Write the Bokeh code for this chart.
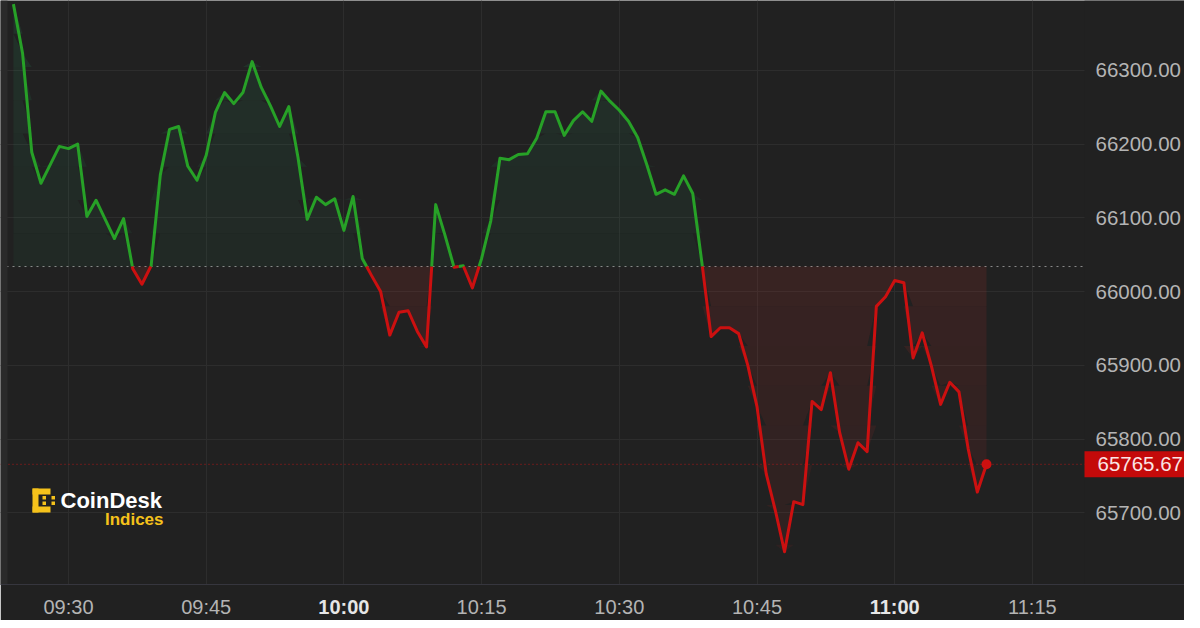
import numpy as np
from bokeh.plotting import figure
from bokeh.models import (Range1d, FixedTicker, PrintfTickFormatter, Span, Label,
                          BoxAnnotation, LinearAxis)
from bokeh.embed import file_html
from bokeh.resources import INLINE

# ---------------- data ----------------
start_time = "09:24"          # first 1-minute sample
prices = [
    66390, 66323, 66189, 66147, 66172, 66197, 66194, 66200, 66102, 66124,
    66098, 66072, 66099, 66031, 66010, 66035, 66158, 66220, 66224, 66170,
    66151, 66185, 66243, 66270, 66255, 66270, 66312, 66277, 66252, 66224,
    66251, 66182, 66098, 66128, 66118, 66126, 66083, 66129, 66045, 66022,
    66000, 65941, 65972, 65974, 65946, 65925, 66118, 66077, 66033, 66035,
    66005, 66045, 66096, 66181, 66179, 66186, 66187, 66208, 66244, 66244,
    66212, 66232, 66244, 66231, 66272, 66258, 66246, 66231, 66209, 66172,
    66132, 66138, 66132, 66157, 66133, 66039, 65939, 65951, 65951, 65943,
    65900, 65844, 65753, 65703, 65647, 65715, 65711, 65851, 65840, 65890,
    65809, 65759, 65795, 65783, 65980, 65993, 66015, 66012, 65910, 65944,
    65899, 65847, 65877, 65864, 65787, 65728, 65765.67,
]
baseline_price = 66034.0
price_ticks = [65600, 65700, 65800, 65900, 66000, 66100, 66200, 66300]
time_ticks = ["09:30", "09:45", "10:00", "10:15", "10:30", "10:45", "11:00", "11:15"]
hour_ticks = ["10:00", "11:00"]

# ---------------- style ----------------
BG = "#212121"
GRID = "#2d2d2d"
GREEN = "#27a127"
RED = "#cc1010"
AXIS_TXT = "#b4b4b4"
FONT = "Liberation Sans"
YELLOW = "#f5c21b"
HOUR_ROW_SHIFT = 31  # moves the bold hour labels up onto the time-label row


def to_min(s):
    h, m = s.split(":")
    return int(h) * 60 + int(m)


# chart geometry in canvas pixels
PX_0930 = 68.0
PX_PER_MIN = 9.18
PY_66000 = 291.1
PY_PER_UNIT = 0.7371
PRICE_SCALE_PX = 1084      # left edge of the price scale column


def px_to_min(px):
    return to_min("09:30") + (px - PX_0930) / PX_PER_MIN


def py_to_val(py):
    return 66000 + (PY_66000 - py) / PY_PER_UNIT


FRAME_W, FRAME_H = 1184, 584
X_START, X_END = px_to_min(0), px_to_min(FRAME_W)
Y_START, Y_END = py_to_val(FRAME_H), py_to_val(0)

x = np.array([to_min(start_time) + k for k in range(len(prices))], dtype=float)
y = np.array(prices, dtype=float)
base = baseline_price

# insert baseline crossings so the colour switches exactly at the baseline
xs, ys = [x[0]], [y[0]]
for i in range(1, len(x)):
    y0, y1 = y[i - 1], y[i]
    if (y0 - base) * (y1 - base) < 0:
        t = (base - y0) / (y1 - y0)
        xs.append(x[i - 1] + t * (x[i] - x[i - 1]))
        ys.append(base)
    xs.append(x[i])
    ys.append(y1)
xs = np.array(xs)
ys = np.array(ys)
up = np.where(ys >= base, ys, np.nan)
dn = np.where(ys <= base, ys, np.nan)

p = figure(
    frame_width=FRAME_W, frame_height=FRAME_H,
    x_range=Range1d(X_START, X_END), y_range=Range1d(Y_START, Y_END),
    output_backend="svg", toolbar_location=None,
    min_border_left=0, min_border_top=0, min_border_right=0, min_border_bottom=0,
    background_fill_color=BG, border_fill_color=BG,
)
p.outline_line_color = None

p.xgrid.ticker = FixedTicker(ticks=[to_min(t) for t in time_ticks])
p.ygrid.ticker = FixedTicker(ticks=price_ticks)
p.xgrid.grid_line_color = GRID
p.ygrid.grid_line_color = GRID

# gradient-like fills (stacked bands)
N = 8
top_levels = np.linspace(base, Y_END, N + 1)
for k in range(N):
    lo, hi = top_levels[k], top_levels[k + 1]
    p.varea(x=xs, y1=lo, y2=np.clip(ys, lo, hi), fill_color="#2cc07a",
            fill_alpha=0.05 + 0.06 * k / (N - 1))
bot_levels = np.linspace(base, Y_START, N + 1)
for k in range(N):
    hi, lo = bot_levels[k], bot_levels[k + 1]
    p.varea(x=xs, y1=np.clip(ys, lo, hi), y2=hi, fill_color="#e0302a",
            fill_alpha=0.12 - 0.05 * k / (N - 1))

# baseline and last-price lines (underlay, so the price column can cover them)
p.add_layout(Span(location=base, dimension="width", line_color="#8c8c8c",
                  line_dash="2 4", line_width=1, level="underlay"))
p.add_layout(Span(location=prices[-1], dimension="width", line_color="#b01818",
                  line_dash="1 3", line_width=1, level="underlay"))

# price-scale column background and left tool strip
p.add_layout(BoxAnnotation(left=px_to_min(PRICE_SCALE_PX), fill_color=BG, fill_alpha=1.0,
                           line_color=None, level="underlay"))
p.add_layout(BoxAnnotation(right=px_to_min(7), fill_color="#2a2a2a", fill_alpha=1.0,
                           line_color=None, level="underlay"))

p.line(xs, up, line_color=GREEN, line_width=3, line_join="round")
p.line(xs, dn, line_color=RED, line_width=3, line_join="round")
p.scatter([x[-1]], [y[-1]], size=10, fill_color=RED, line_color=None)

# price axis: labels drawn inside the price-scale column
p.yaxis.visible = False
yax = LinearAxis(
    ticker=FixedTicker(ticks=price_ticks),
    formatter=PrintfTickFormatter(format="%.2f"),
    major_tick_line_color=None, minor_tick_line_color=None, axis_line_color=None,
    major_label_standoff=-95, major_label_text_color=AXIS_TXT,
    major_label_text_font=FONT, major_label_text_font_size="20.5px",
)
p.add_layout(yax, "right")

# time axis
tick_vals = [to_min(t) for t in time_ticks]
p.xaxis.ticker = FixedTicker(ticks=tick_vals)
p.xaxis.major_label_overrides = {
    to_min(t): ("" if t in hour_ticks else t) for t in time_ticks
}
p.xaxis.major_tick_line_color = None
p.xaxis.minor_tick_line_color = None
p.xaxis.axis_line_color = "#36363e"
p.xaxis.major_label_standoff = 5
p.xaxis.major_label_text_color = AXIS_TXT
p.xaxis.major_label_text_font = FONT
p.xaxis.major_label_text_font_size = "20px"

# hour labels in bold, on the same row as the other time labels
hax = LinearAxis(
    ticker=FixedTicker(ticks=[to_min(t) for t in hour_ticks]),
    major_label_overrides={to_min(t): t for t in hour_ticks},
    major_tick_line_color=None, minor_tick_line_color=None, axis_line_color=None,
    major_label_standoff=-HOUR_ROW_SHIFT, major_label_text_color="#e6e6e6",
    major_label_text_font=FONT, major_label_text_font_size="20px",
    major_label_text_font_style="bold",
)
p.add_layout(hax, "below")

# last price tag
p.add_layout(Label(x=px_to_min(PRICE_SCALE_PX), y=prices[-1], text=f"{prices[-1]:.2f}",
                   text_align="left", text_baseline="middle", text_font=FONT,
                   text_font_size="20.5px", text_color="#fbe4e4",
                   background_fill_color="#c40a0a", padding=(13, 6)))

# CoinDesk Indices logo
p.add_layout(Label(x=px_to_min(60), y=py_to_val(500), text="CoinDesk", text_align="left",
                   text_baseline="middle", text_font=FONT, text_font_size="22px",
                   text_font_style="bold", text_color="#ffffff"))
p.add_layout(Label(x=px_to_min(163), y=py_to_val(519), text="Indices", text_align="right",
                   text_baseline="middle", text_font=FONT, text_font_size="17px",
                   text_font_style="bold", text_color=YELLOW))
for (l, t, r, b) in [(32, 488, 50, 494), (32, 506, 50, 512), (32, 488, 38, 512),
                     (42, 495.5, 45.5, 499), (42, 501, 45.5, 504.5),
                     (51, 495.5, 54.5, 499), (51, 501, 54.5, 504.5)]:
    p.add_layout(BoxAnnotation(left=px_to_min(l), right=px_to_min(r),
                               top=py_to_val(t), bottom=py_to_val(b),
                               fill_color=YELLOW, fill_alpha=1.0, line_color=None))

open("out.html", "w").write(file_html(p, INLINE))
